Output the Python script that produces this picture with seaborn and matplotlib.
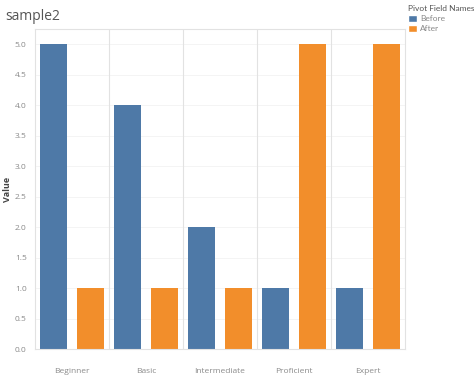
import pandas as pd
import matplotlib.pyplot as plt
import seaborn as sns
from matplotlib.patches import Patch

categories = ['Beginner', 'Basic', 'Intermediate', 'Proficient', 'Expert']
before = [5, 4, 2, 1, 1]
after = [1, 1, 1, 5, 5]
series = ['Before', 'After']
colors = ['#4e79a7', '#f28e2b']

df = pd.DataFrame({
    'level': categories * 2,
    'value': before + after,
    'field': ['Before'] * len(categories) + ['After'] * len(categories),
})

sns.set_style('white')
plt.rcParams['font.family'] = ['Open Sans', 'DejaVu Sans']

fig = plt.figure(figsize=(4.74, 3.85), dpi=100)
ax = fig.add_axes([35 / 474, 1 - 349 / 385, 370 / 474, 320 / 385])

sns.barplot(data=df, x='level', y='value', hue='field', order=categories,
            hue_order=series, palette=colors, width=1.0, gap=0.27,
            saturation=1, legend=False, linewidth=0, ax=ax)

ax.set_xlim(-0.5, len(categories) - 0.5)
ax.set_ylim(0, 5.25)
ax.set_yticks([i * 0.5 for i in range(11)])
ax.set_yticklabels([f'{i * 0.5:.1f}' for i in range(11)])

# faint horizontal grid + panel separators
for t in [i * 0.5 for i in range(1, 11)]:
    ax.axhline(t, color='#f3f3f3', linewidth=0.6, zorder=0)
for i in range(1, len(categories)):
    ax.axvline(i - 0.5, color='#e2e2e2', linewidth=0.8, zorder=0)

for side in ['left', 'right', 'top', 'bottom']:
    ax.spines[side].set_visible(True)
    ax.spines[side].set_color('#e2e2e2')
    ax.spines[side].set_linewidth(0.8)

ax.tick_params(axis='both', length=0, labelsize=6, colors='#8a8a8a')
ax.tick_params(axis='x', pad=14)
ax.tick_params(axis='y', pad=6)
ax.set_xlabel('')
ax.set_ylabel('Value', fontsize=6.5, color='#444444', fontweight='bold')
ax.yaxis.set_label_coords(-0.062, 0.5)

fig.text(5 / 474, 1 - 17 / 385, 'sample2', fontsize=10, color='#555555',
         va='center', ha='left')

handles = [Patch(facecolor=c, label=s) for c, s in zip(colors, series)]
leg = fig.legend(handles=handles, title='Pivot Field Names', loc='upper left',
                 bbox_to_anchor=(405 / 474, 1 - 2 / 385), frameon=False,
                 prop={'family': 'Lato', 'size': 6},
                 title_fontproperties={'family': 'Lato', 'size': 6},
                 handlelength=1.0, handleheight=1.0, handletextpad=0.4,
                 labelspacing=0.3, borderaxespad=0, alignment='left')
leg.get_title().set_color('#555555')
for txt in leg.get_texts():
    txt.set_color('#888888')

fig.savefig('out.png', dpi=100)
